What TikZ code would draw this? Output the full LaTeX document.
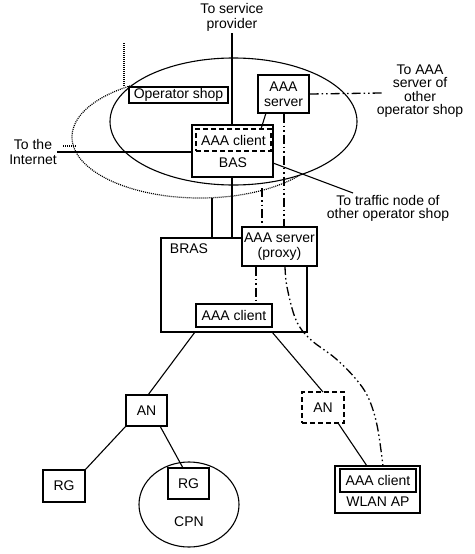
\documentclass[tikz,border=0pt]{standalone}
\usepackage{fontspec}
\setmainfont{Liberation Sans}
\begin{document}
\begin{tikzpicture}[x=1pt,y=-1pt,
  every node/.style={font=\fontsize{14}{15}\selectfont, inner sep=0pt},
  box/.style={draw, line width=1.1pt, fill=white, align=center},
  dbox/.style={draw, line width=1.1pt, dash pattern=on 5pt off 3pt},
  lbl/.style={align=center},
  ln/.style={line width=1.1pt},
  ddot/.style={line width=1.3pt, dash pattern=on 9pt off 3pt on 1.5pt off 3pt on 1.5pt off 3pt},
  dotl/.style={line width=1.2pt, dash pattern=on 1pt off 1pt}]
\useasboundingbox (0,0) rectangle (474,554);
% ellipses
\draw[dotl] (200,137) ellipse [x radius=128pt, y radius=61pt];
\draw[ln, fill=white] (233.5,121.5) ellipse [x radius=123.5pt, y radius=63.5pt];
% boxes
\node[box, minimum width=99pt, minimum height=16pt] (opshop) at (178.5,95) {Operator shop};
\node[box, minimum width=51pt, minimum height=38pt] (aaas) at (283.5,94) {AAA\\server};
\node[box, minimum width=81pt, minimum height=52pt] (bas) at (232.5,151) {};
\node[dbox, minimum width=75pt, minimum height=22pt] (basc) at (233.5,140) {AAA client};
\node (baslbl) at (233,163) {BAS};
\node[box, minimum width=146pt, minimum height=94pt] (bras) at (234,285) {};
\node (braslbl) at (189,249) {BRAS};
\node[box, minimum width=75pt, minimum height=39pt] (proxy) at (279.5,246.5) {AAA server\\(proxy)};
\node[box, minimum width=76pt, minimum height=23pt] (brasc) at (234,315.5) {AAA client};
\node[box, minimum width=41pt, minimum height=31pt] (an1) at (146.5,410.5) {AN};
\node[dbox, minimum width=42pt, minimum height=31pt] (an2) at (323,407.5) {AN};
\node[box, minimum width=42pt, minimum height=32pt] (rg1) at (64,486) {RG};
\draw[ln] (189,504.5) ellipse [x radius=50pt, y radius=42.5pt];
\node (cpn) at (189,522) {CPN};
\node[box, minimum width=41pt, minimum height=31pt] (rg2) at (188.5,483.5) {RG};
\node[box, minimum width=85pt, minimum height=47pt] (wlan) at (377.5,489.5) {};
\node[draw, line width=1.1pt, minimum width=76pt, minimum height=23pt] (wlanc) at (378,480.5) {AAA client};
\node (wlanlbl) at (378,502) {WLAN AP};
% texts
\node[lbl] (sp) at (232,17) {To service\\provider};
\node[lbl] (inet) at (33,152) {To the\\Internet};
\node[lbl, font=\fontsize{14}{13.5}\selectfont] (oaaa) at (420,91) {To AAA\\server of\\other\\operator shop};
\node[lbl, font=\fontsize{14}{13.5}\selectfont] (traffic) at (388,208.5) {To traffic node of\\other operator shop};
% coordinates
\coordinate (spend) at (232,33);
\coordinate (inetend) at (57,152);
\coordinate (inetdot) at (63,146);
\coordinate (vdot) at (124,43);
\coordinate (trafend) at (353,193);
\coordinate (oaaaend) at (382,93);
\coordinate (opl) at (212,198);
\coordinate (opd) at (262,188);
% solid lines
\draw[ln] (spend) -- (spend |- bas.north);
\draw[ln] (bas.south -| spend) -- (bras.north -| spend);
\draw[ln] (opl) -- (opl |- bras.north);
\draw[ln] (inetend) -- (inetend -| bas.west);
\draw[dotl] (inetdot) -- (76,146);
\draw[dotl] (vdot) -- (124,87);
\draw[ln] (273,163) -- (trafend);
\draw[ln] (266,113) -- (261,129);
% dash-dot lines
\draw[ddot] (aaas.east) -- (oaaaend);
\draw[ddot] (aaas.south -| 284,0) -- (proxy.north -| 284,0);
\draw[ddot] (opd) -- (opd |- proxy.north);
\draw[ddot] (proxy.south -| 256,0) -- (brasc.north -| 256,0);
\draw[ddot] plot[smooth, tension=0.6] coordinates {(285,266) (287,287) (296,320) (310,339) (335,358) (355,378) (368,397) (377,425) (383,466)};
% tree lines
\draw[ln] (195,332) -- (148,395);
\draw[ln] (272,332) -- (323,392);
\draw[ln] (126,426) -- (85,470);
\draw[ln] (160,426) -- (183,468);
\draw[ln] (338,423) -- (367,466);
\end{tikzpicture}
\end{document}
